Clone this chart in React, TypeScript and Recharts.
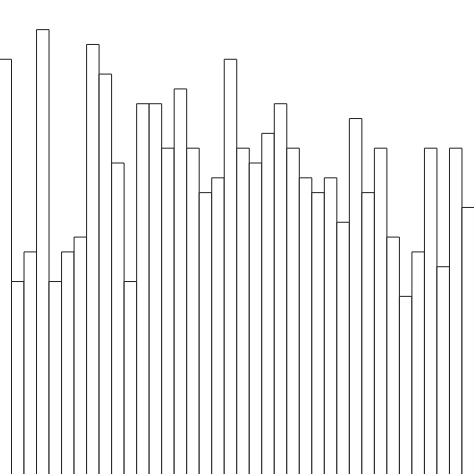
import { BarChart, Bar, XAxis, YAxis } from "recharts";

// one category per bar, left to right
const categories = Array.from({ length: 38 }, (_, i) => `c${i + 1}`);

// bar heights
const values = [
  29, 14, 16, 31, 14, 16, 17, 30, 28, 22, 14, 26, 26, 23, 27, 23, 20, 21, 29,
  23, 22, 24, 26, 23, 21, 20, 21, 18, 25, 20, 23, 17, 13, 16, 23, 15, 23, 19,
];

const Y_MAX = 33;

const data = categories.map((name, i) => ({ name, value: values[i] }));

// drawn at twice the size so every band is a whole number of pixels,
// then shrunk back down with a CSS transform
const SCALE = 2;

export default function App() {
  return (
    <div
      style={{
        position: "fixed",
        top: 0,
        left: 0,
        width: 474,
        height: 474,
        overflow: "hidden",
        background: "#fff",
      }}
    >
      <div
        style={{
          position: "absolute",
          left: -1,
          top: 0,
          transform: `scale(${1 / SCALE})`,
          transformOrigin: "0 0",
        }}
      >
        <BarChart
          width={475.5 * SCALE}
          height={489 * SCALE}
          data={data}
          margin={{ top: 0, right: 0, bottom: 0, left: 0 }}
          barCategoryGap={0}
          barGap={0}
        >
          <XAxis dataKey="name" hide />
          <YAxis hide domain={[0, Y_MAX]} />
          <Bar
            dataKey="value"
            fill="#ffffff"
            stroke="#222222"
            strokeWidth={SCALE}
            isAnimationActive={false}
          />
        </BarChart>
      </div>
    </div>
  );
}
